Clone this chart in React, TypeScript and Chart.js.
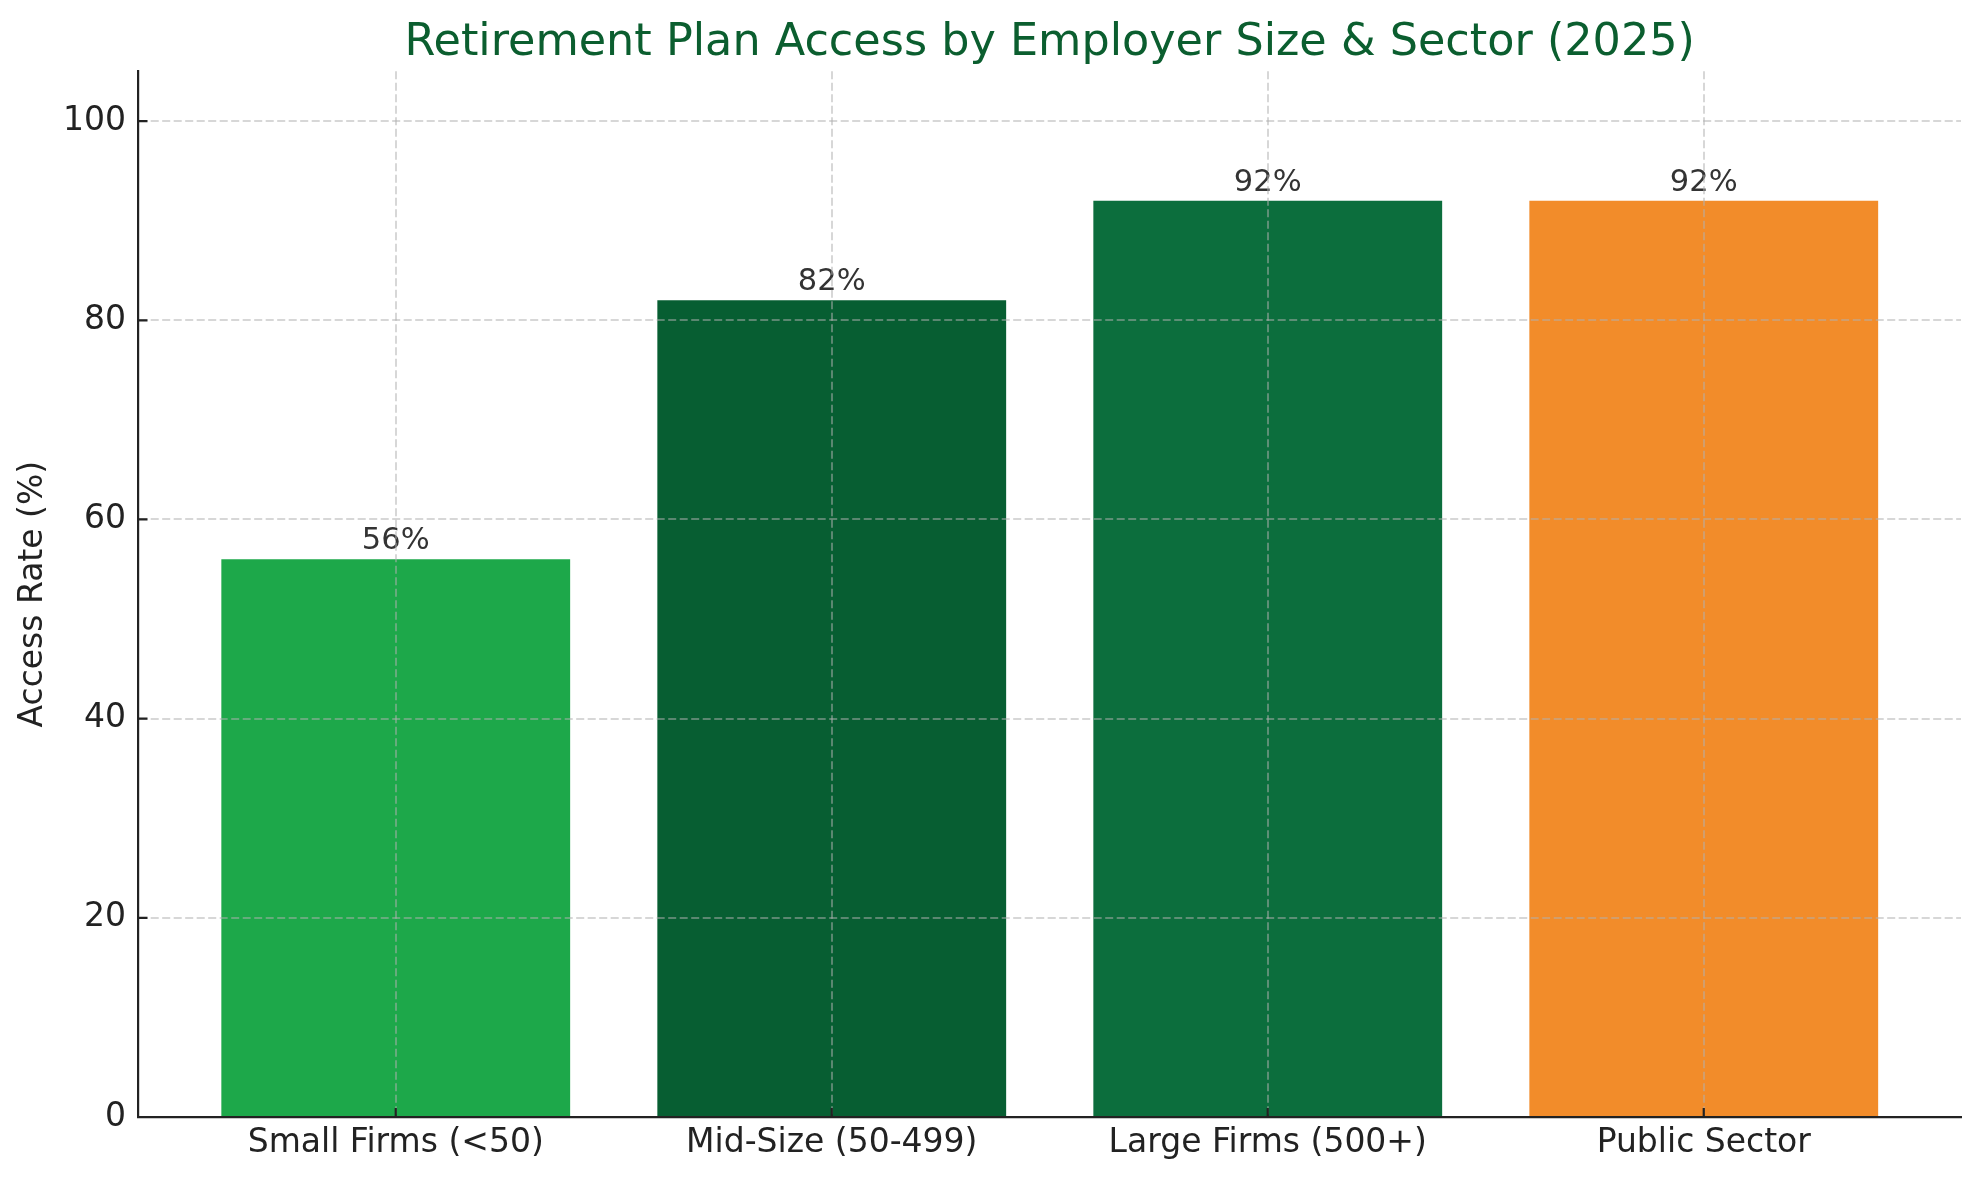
import React, { useEffect, useRef } from 'react';
import { Chart, registerables } from 'chart.js';

Chart.register(...registerables);

const categories = ['Small Firms (<50)', 'Mid-Size (50-499)', 'Large Firms (500+)', 'Public Sector'];
const accessRates = [56, 82, 92, 92];
const barColors = ['#1DA84A', '#075E32', '#0C6E3D', '#F28C2A'];
const yTickValues = [0, 20, 40, 60, 80, 100];
const titleText = 'Retirement Plan Access by Employer Size & Sector (2025)';
const yAxisTitle = 'Access Rate (%)';

const FONT = "'DejaVu Sans', 'Liberation Sans', sans-serif";

const valueLabelPlugin = {
  id: 'valueLabels',
  afterDatasetsDraw(chart: any) {
    const ctx = chart.ctx;
    const meta = chart.getDatasetMeta(0);
    ctx.save();
    ctx.font = `30.5px ${FONT}`;
    ctx.fillStyle = '#333333';
    ctx.textAlign = 'center';
    ctx.textBaseline = 'alphabetic';
    meta.data.forEach((el: any, i: number) => {
      ctx.fillText(`${accessRates[i]}%`, el.x, el.y - 10);
    });
    ctx.restore();
  },
};

const inwardTicksPlugin = {
  id: 'inwardTicks',
  afterDraw(chart: any) {
    const ctx = chart.ctx;
    const { left, bottom } = chart.chartArea;
    const xs = chart.scales.x;
    const ys = chart.scales.y;
    ctx.save();
    ctx.strokeStyle = '#222222';
    ctx.lineWidth = 2.2;
    ctx.beginPath();
    yTickValues.forEach((v) => {
      const p = ys.getPixelForValue(v);
      ctx.moveTo(left, p);
      ctx.lineTo(left + 9, p);
    });
    categories.forEach((_, i) => {
      const p = xs.getPixelForValue(i);
      ctx.moveTo(p, bottom);
      ctx.lineTo(p, bottom - 9);
    });
    ctx.stroke();
    ctx.restore();
  },
};

export default function App() {
  const canvasRef = useRef<HTMLCanvasElement | null>(null);

  useEffect(() => {
    if (!canvasRef.current) return;
    Chart.defaults.font.family = FONT;
    const chart = new Chart(canvasRef.current, {
      type: 'bar',
      data: {
        datasets: [
          {
            data: categories.map((_, i) => ({ x: i, y: accessRates[i] })),
            backgroundColor: barColors,
            borderWidth: 0,
            categoryPercentage: 1,
            barPercentage: 0.8,
          },
        ],
      },
      options: {
        animation: false,
        responsive: true,
        maintainAspectRatio: false,
        layout: { padding: { top: 0, right: 18, bottom: 0, left: 0 } },
        plugins: {
          legend: { display: false },
          tooltip: { enabled: false },
          title: {
            display: true,
            text: titleText,
            fullSize: false,
            color: '#0B5E2F',
            font: { size: 44.5, weight: 'normal', lineHeight: 1.2, family: FONT },
            padding: { top: 16.3, bottom: 1.6 },
          },
        },
        scales: {
          x: {
            type: 'linear',
            offset: false,
            min: -0.59,
            max: 3.59,
            afterBuildTicks: (scale: any) => {
              scale.ticks = categories.map((_, i) => ({ value: i }));
            },
            afterFit: (scale: any) => {
              scale.height = 63;
            },
            ticks: {
              callback: (value: any) => categories[value as number] ?? '',
              color: '#222222',
              font: { size: 33, family: FONT, lineHeight: 1.2 },
              padding: 7,
              maxRotation: 0,
              minRotation: 0,
              autoSkip: false,
            },
            grid: {
              display: true,
              offset: false,
              drawOnChartArea: true,
              drawTicks: false,
              color: 'rgba(176,176,176,0.5)',
              lineWidth: 2,
              z: 1,
            },
            border: {
              display: true,
              color: '#222222',
              width: 2.2,
              dash: [8, 3.5],
              z: 2,
            },
          },
          y: {
            type: 'linear',
            min: 0,
            max: 105,
            afterBuildTicks: (scale: any) => {
              scale.ticks = yTickValues.map((v) => ({ value: v }));
            },
            afterFit: (scale: any) => {
              scale.width = 138.5;
            },
            ticks: {
              color: '#222222',
              font: { size: 33, family: FONT, lineHeight: 1.2 },
              padding: 12.5,
            },
            grid: {
              display: true,
              drawOnChartArea: true,
              drawTicks: false,
              color: 'rgba(176,176,176,0.5)',
              lineWidth: 2,
              z: 1,
            },
            border: {
              display: true,
              color: '#222222',
              width: 2.2,
              dash: [8, 3.5],
              z: 2,
            },
            title: {
              display: true,
              text: yAxisTitle,
              color: '#222222',
              font: { size: 33, family: FONT, lineHeight: 1.2 },
              padding: { top: 14, bottom: 0 },
            },
          },
        },
      },
      plugins: [valueLabelPlugin, inwardTicksPlugin],
    } as any);
    return () => chart.destroy();
  }, []);

  return (
    <div style={{ position: 'fixed', left: 0, top: 0, width: '1979px', height: '1180px', background: '#ffffff' }}>
      <canvas ref={canvasRef} />
    </div>
  );
}
